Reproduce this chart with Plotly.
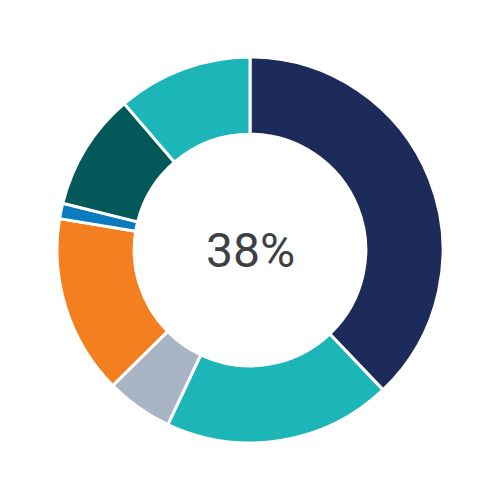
import plotly.graph_objects as go

labels = ["A", "B", "C", "D", "E", "F", "G"]
values = [37.9, 19.1, 5.6, 15.0, 1.3, 9.8, 11.3]
colors = ["#1d2b5a", "#1cb5b8", "#a9b4c4", "#f47f20", "#0a7bbf", "#03585a", "#1cb5b8"]
center_text = "38%"

fig = go.Figure(go.Pie(
    labels=labels,
    values=values,
    hole=0.6,
    sort=False,
    direction="clockwise",
    rotation=0,
    textinfo="none",
    hoverinfo="skip",
    marker=dict(colors=colors, line=dict(color="white", width=3)),
))

fig.add_annotation(text=center_text, x=0.5, y=0.5, xref="paper", yref="paper",
                   showarrow=False, font=dict(size=48, color="#3d4146", family="Roboto"))

fig.update_layout(width=500, height=500, showlegend=False,
                  margin=dict(l=49, r=65, t=49, b=65),
                  paper_bgcolor="white", plot_bgcolor="white")

fig.write_html("out.html")
